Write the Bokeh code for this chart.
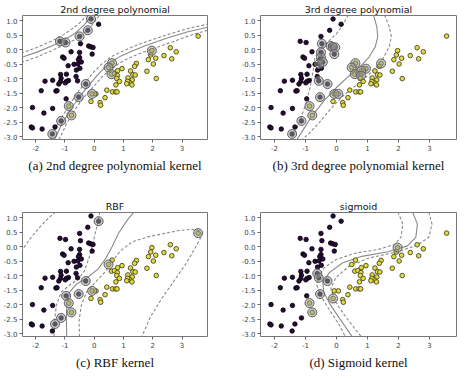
from bokeh.plotting import figure
from bokeh.models import Range1d, FixedTicker, PrintfTickFormatter, Title
from bokeh.layouts import column, row
from bokeh.embed import file_html
from bokeh.resources import INLINE

# ---- data points (same in all panels) ----
purple_x = [-0.11, 0.15, -0.22, -0.50, -1.17, -0.98, -0.47, -0.19, -0.12, -0.04,
            -0.79, -0.50, -0.07, -1.08, -1.03, -0.50, -0.54, -0.44, -0.69, -0.56,
            -0.89, -0.49, -0.61, -1.15, -0.95, -0.62, -1.13, -1.42, -1.68, -0.88,
            -0.95, -0.99, -1.15, -1.21, -0.57, -0.29, -1.31, -1.27, -1.81, -0.53,
            -0.96, -2.11, -1.42, -1.72, -1.13, -1.34, -2.15, -2.11, -1.78, -1.43]
purple_y = [1.06, 0.88, 0.67, 0.46, 0.29, 0.25, 0.21, 0.13, 0.10, 0.08,
            -0.07, -0.09, -0.15, -0.25, -0.29, -0.27, -0.34, -0.42, -0.50, -0.49,
            -0.55, -0.64, -0.70, -0.85, -0.84, -0.92, -0.98, -1.05, -1.08, -1.06,
            -1.09, -1.14, -1.09, -1.18, -1.07, -1.18, -1.42, -1.41, -1.41, -1.63,
            -1.69, -1.99, -2.02, -2.18, -2.45, -2.66, -2.66, -2.69, -2.73, -2.90]
yellow_x = [3.55, 1.97, 2.60, 2.80, 2.38, 1.93, 2.10, 1.85, 2.65, 2.02,
            1.44, 1.38, 1.80, 2.12, 0.61, 0.49, 0.95, 0.80, 1.24, 1.32,
            1.40, 0.59, 0.69, 0.79, 0.77, 0.86, 1.15, 1.30, 1.22, 1.14,
            1.29, 1.11, 0.74, 0.43, 0.62, 0.73, 0.78, -0.07, 0.06, -0.11,
            0.37, 0.20, 0.22, -0.87, -0.78]
yellow_y = [0.47, -0.03, 0.07, -0.07, -0.20, -0.18, -0.29, -0.34, -0.31, -0.49,
            -0.47, -0.57, -0.74, -0.99, -0.46, -0.61, -0.65, -0.72, -0.73, -0.86,
            -0.87, -0.84, -0.82, -0.89, -0.99, -1.09, -0.97, -1.04, -1.14, -1.09,
            -1.21, -1.17, -1.21, -1.39, -1.45, -1.45, -1.45, -1.52, -1.52, -1.78,
            -1.65, -1.82, -1.91, -1.94, -2.26]

# ---- support vectors (indices into the point lists) ----
a_sv_purple = [0, 2, 3, 4, 5, 35, 39, 44, 49]
a_sv_yellow = [1, 14, 15, 21, 37, 43, 44]
b_sv_purple = [6, 7, 8, 9, 11, 12, 15, 17, 19, 34, 35, 39, 44, 49]
b_sv_yellow = [10, 14, 15, 16, 17, 21, 23, 37, 38, 43, 44]
c_sv_purple = [1, 35, 39, 40, 44, 45]
c_sv_yellow = [0, 15, 37, 43, 44]
d_sv_purple = [25, 34, 35, 39]
d_sv_yellow = [1, 39, 43, 44]

# ---- decision function contours (levels -1, 0, +1) ----
a_up_outer_x = [-2.5, -1.98, -1.45, -1.03, -0.71, -0.44, -0.26]
a_up_outer_y = [-0.12, 0.07, 0.30, 0.53, 0.75, 0.97, 1.20]
a_up_mid_x = [-2.5, -1.98, -1.45, -1.03, -0.66, -0.34, -0.07]
a_up_mid_y = [-0.27, -0.09, 0.13, 0.34, 0.56, 0.86, 1.20]
a_up_inner_x = [-2.5, -1.98, -1.45, -1.03, -0.60, -0.26, -0.02, 0.19]
a_up_inner_y = [-0.44, -0.26, -0.03, 0.16, 0.38, 0.64, 0.92, 1.20]
a_lo_left_x = [-1.52, -1.25, -0.90, -0.60, -0.32, -0.05, 0.25, 0.55, 0.85, 1.30, 1.70, 2.10, 2.60, 3.20, 3.90]
a_lo_left_y = [-3.10, -2.55, -1.99, -1.52, -1.15, -0.80, -0.50, -0.26, -0.10, 0.10, 0.25, 0.39, 0.55, 0.73, 0.89]
a_lo_mid_x = [-1.36, -1.10, -0.76, -0.45, -0.18, 0.10, 0.35, 0.65, 0.90, 1.30, 1.70, 2.10, 2.60, 3.20, 3.90]
a_lo_mid_y = [-3.10, -2.55, -1.99, -1.55, -1.22, -0.88, -0.62, -0.38, -0.22, -0.04, 0.12, 0.27, 0.44, 0.62, 0.78]
a_lo_right_x = [-1.20, -0.95, -0.62, -0.30, -0.02, 0.25, 0.50, 0.80, 1.10, 1.50, 1.90, 2.30, 2.80, 3.30, 3.90]
a_lo_right_y = [-3.10, -2.55, -2.00, -1.57, -1.27, -0.95, -0.72, -0.50, -0.33, -0.15, 0.00, 0.14, 0.32, 0.50, 0.68]

b_left_x = [0.38, 0.20, 0.00, -0.30, -0.55, -0.70, -0.75, -0.85, -1.00, -1.20, -1.45]
b_left_y = [1.20, 0.85, 0.55, 0.25, 0.02, -0.30, -0.70, -1.30, -1.90, -2.50, -3.10]
b_mid_x = [1.19, 1.30, 1.33, 1.25, 1.05, 0.75, 0.35, 0.00, -0.40, -0.80, -1.10, -1.28]
b_mid_y = [1.20, 0.80, 0.45, 0.10, -0.25, -0.60, -0.95, -1.30, -1.75, -2.30, -2.80, -3.10]
b_right_x = [1.55, 1.70, 1.77, 1.70, 1.45, 1.10, 0.60, 0.20, -0.20, -0.55, -0.90, -1.12]
b_right_y = [1.20, 0.80, 0.45, 0.10, -0.40, -0.80, -1.25, -1.60, -2.05, -2.50, -2.90, -3.10]

c_arc_x = [-2.50, -2.19, -1.87, -1.55, -1.32]
c_arc_y = [-0.17, 0.28, 0.67, 1.00, 1.20]
c_left_x = [0.19, 0.14, 0.03, -0.07, -0.18, -0.34, -0.55, -0.87, -1.13, -1.29, -1.36, -1.37]
c_left_y = [1.20, 0.89, 0.45, 0.00, -0.39, -0.84, -1.12, -1.34, -1.56, -2.01, -2.57, -3.10]
c_mid_x = [1.36, 1.11, 0.82, 0.61, 0.40, 0.14, -0.23, -0.60, -0.84, -0.94, -0.95, -0.94]
c_mid_y = [1.20, 0.89, 0.45, 0.00, -0.39, -0.76, -1.06, -1.28, -1.56, -2.01, -2.57, -3.10]
c_right_x = [-0.50, -0.52, -0.44, -0.26, 0.03, 0.35, 0.61, 0.93, 1.30, 1.83, 2.36, 2.89, 3.31,
             3.57, 3.68, 3.47, 3.15, 2.73, 2.30, 1.93, 1.62]
c_right_y = [-3.10, -2.57, -2.01, -1.56, -1.23, -0.89, -0.50, -0.11, 0.17, 0.34, 0.45, 0.56, 0.60,
             0.56, 0.39, 0.00, -0.56, -1.17, -1.79, -2.40, -3.10]

d_left_x = [1.98, 2.14, 2.08, 1.87, 1.35, 0.61, -0.02, -0.39, -0.60, -0.63, -0.49, -0.23, 0.08, 0.29]
d_left_y = [1.20, 0.78, 0.33, 0.08, -0.09, -0.22, -0.44, -0.72, -1.06, -1.33, -1.72, -2.17, -2.67, -3.10]
d_mid_x = [2.45, 2.61, 2.56, 2.29, 1.66, 0.82, 0.19, -0.23, -0.44, -0.41, -0.23, 0.08, 0.51]
d_mid_y = [1.20, 0.78, 0.33, 0.03, -0.17, -0.33, -0.56, -0.89, -1.22, -1.56, -1.94, -2.44, -3.10]
d_right_x = [2.98, 3.08, 2.98, 2.61, 1.98, 1.03, 0.40, -0.02, -0.18, -0.07, 0.24, 0.56, 0.80]
d_right_y = [1.20, 0.78, 0.33, 0.06, -0.17, -0.39, -0.67, -1.06, -1.44, -1.83, -2.33, -2.78, -3.10]

titles = ["2nd degree polynomial", "3rd degree polynomial", "RBF", "sigmoid"]
captions = ["(a) 2nd degree polynomial kernel", "(b) 3rd degree polynomial kernel",
            "(c) RBF kernel", "(d) Sigmoid kernel"]
x_ticks = [-2, -1, 0, 1, 2, 3]
y_ticks = [-3.0, -2.5, -2.0, -1.5, -1.0, -0.5, 0.0, 0.5, 1.0]
X_RANGE = (-2.45, 3.87)
Y_RANGE = (-3.09, 1.18)

panel_lines = [
    [(a_up_outer_x, a_up_outer_y, True), (a_up_mid_x, a_up_mid_y, False), (a_up_inner_x, a_up_inner_y, True),
     (a_lo_left_x, a_lo_left_y, True), (a_lo_mid_x, a_lo_mid_y, False), (a_lo_right_x, a_lo_right_y, True)],
    [(b_left_x, b_left_y, True), (b_mid_x, b_mid_y, False), (b_right_x, b_right_y, True)],
    [(c_arc_x, c_arc_y, True), (c_left_x, c_left_y, True), (c_mid_x, c_mid_y, False), (c_right_x, c_right_y, True)],
    [(d_left_x, d_left_y, True), (d_mid_x, d_mid_y, False), (d_right_x, d_right_y, True)],
]
panel_sv = [(a_sv_purple, a_sv_yellow), (b_sv_purple, b_sv_yellow),
            (c_sv_purple, c_sv_yellow), (d_sv_purple, d_sv_yellow)]


def make_panel(i, frame_w, right_border, bottom_border):
    p = figure(frame_width=frame_w, frame_height=124,
               x_range=Range1d(*X_RANGE), y_range=Range1d(*Y_RANGE),
               output_backend="svg", toolbar_location=None, title=titles[i])
    p.min_border_left = 0
    p.min_border_right = right_border
    p.min_border_top = 0
    p.min_border_bottom = bottom_border
    p.title.align = "center"
    p.title.text_font = "DejaVu Sans"
    p.title.text_font_size = "9.5px"
    p.title.text_font_style = "normal"
    p.title.text_color = "#111111"
    p.title.standoff = 2
    p.grid.visible = False
    p.background_fill_color = "white"
    p.border_fill_color = "white"
    p.outline_line_color = "#777777"
    p.outline_line_width = 1
    for ax in (p.xaxis[0], p.yaxis[0]):
        ax.axis_line_color = None
        ax.major_tick_line_color = "#666666"
        ax.major_tick_in = 0
        ax.major_tick_out = 3
        ax.minor_tick_line_color = None
        ax.major_label_text_font = "DejaVu Sans"
        ax.major_label_text_font_size = "7px"
        ax.major_label_text_color = "#444444"
        ax.major_label_standoff = 2
    p.xaxis.ticker = FixedTicker(ticks=x_ticks)
    p.xaxis.formatter = PrintfTickFormatter(format="%d")
    p.yaxis.ticker = FixedTicker(ticks=y_ticks)
    p.yaxis.formatter = PrintfTickFormatter(format="%.1f")

    for xs, ys, dashed in panel_lines[i]:
        p.line(xs, ys, line_color="#8a8a8a", line_width=1.1,
               line_dash="3 2" if dashed else "solid")

    p.scatter(purple_x, purple_y, size=4.5, fill_color="#2b0a3d", line_color="#000000", line_width=0.8)
    p.scatter(yellow_x, yellow_y, size=4.6, fill_color="#e4da3a", line_color="#45452a", line_width=0.9)

    svp, svy = panel_sv[i]
    sx = [purple_x[k] for k in svp] + [yellow_x[k] for k in svy]
    sy = [purple_y[k] for k in svp] + [yellow_y[k] for k in svy]
    p.scatter(sx, sy, size=9, fill_color="#9a9a9a", fill_alpha=0.5,
              line_color="#5e5e5e", line_width=1)

    cap = Title(text=captions[i], align="center", text_font="Liberation Serif",
                text_font_size="13px", text_font_style="normal", text_color="#111111",
                standoff=4)
    p.add_layout(cap, "below")
    return p


pa = make_panel(0, 185, 31, 58)
pb = make_panel(1, 196, 2, 58)
pc = make_panel(2, 185, 31, 0)
pd = make_panel(3, 196, 2, 0)

layout = column(row(pa, pb), row(pc, pd))
open("out.html", "w").write(file_html(layout, INLINE))
